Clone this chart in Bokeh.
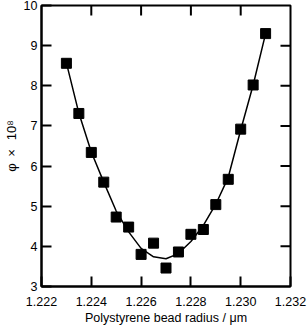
import math
from bokeh.plotting import figure
from bokeh.models import Range1d, FixedTicker, PrintfTickFormatter, ColumnDataSource
from bokeh.embed import file_html
from bokeh.resources import INLINE

# measured points
radius = [1.2230, 1.2235, 1.2240, 1.2245, 1.2250, 1.2255, 1.2260, 1.2265, 1.2270,
          1.2275, 1.2280, 1.2285, 1.2290, 1.2295, 1.2300, 1.2305, 1.2310]
phi = [8.56, 7.31, 6.34, 5.60, 4.73, 4.48, 3.80, 4.08, 3.46,
       3.86, 4.30, 4.42, 5.04, 5.67, 6.92, 8.02, 9.30]

# fitted curve
fit_radius = [1.2230, 1.2235, 1.2240, 1.2245, 1.2250, 1.2255, 1.2260, 1.2265, 1.2270,
              1.2275, 1.2280, 1.2285, 1.2290, 1.2295, 1.2300, 1.2305, 1.2310]
fit_phi = [8.57, 7.32, 6.35, 5.60, 4.88, 4.36, 3.95, 3.74, 3.69,
           3.82, 4.12, 4.52, 5.05, 5.72, 6.90, 8.02, 9.30]

x_ticks = [1.222, 1.224, 1.226, 1.228, 1.230, 1.232]
y_ticks = [3, 4, 5, 6, 7, 8, 9, 10]

x_title = "Polystyrene bead radius / μm"
y_title = "φ\u2002×\u2002\u200910⁸"

FONT = "Liberation Sans"
FS = "12.5px"

p = figure(width=307, height=327, output_backend="svg", toolbar_location=None,
           x_range=Range1d(x_ticks[0], x_ticks[-1]), y_range=Range1d(y_ticks[0], y_ticks[-1]),
           min_border_left=41, min_border_right=17, min_border_top=5, min_border_bottom=40)
p.outline_line_color = "black"
p.outline_line_width = 2
p.xgrid.visible = False
p.ygrid.visible = False
p.background_fill_color = "white"
p.border_fill_color = "white"


def style(ax, ticks):
    ax.ticker = FixedTicker(ticks=ticks)
    ax.axis_line_color = "black"
    ax.axis_line_width = 2
    ax.major_tick_line_color = "black"
    ax.major_tick_line_width = 2
    ax.major_tick_in = 10
    ax.major_tick_out = 0
    ax.minor_tick_line_color = None
    ax.major_label_text_font = FONT
    ax.major_label_text_font_size = FS
    ax.major_label_text_color = "black"
    ax.axis_label_text_font = FONT
    ax.axis_label_text_font_size = FS
    ax.axis_label_text_font_style = "normal"
    ax.axis_label_text_color = "black"


style(p.xaxis[0], x_ticks)
style(p.yaxis[0], y_ticks)
p.xaxis[0].formatter = PrintfTickFormatter(format="%.3f")
p.yaxis[0].formatter = PrintfTickFormatter(format="%d")
p.xaxis[0].major_label_standoff = 10
p.yaxis[0].major_label_standoff = 4
p.xaxis[0].axis_label = x_title
p.xaxis[0].axis_label_standoff = 2
p.yaxis[0].axis_label = y_title
p.yaxis[0].axis_label_text_font_size = "13px"
p.yaxis[0].axis_label_standoff = 2

# mirrored inward ticks on top and right (half of each dash is clipped by the frame)
top_src = ColumnDataSource(dict(x=x_ticks[1:-1], y=[y_ticks[-1]] * (len(x_ticks) - 2)))
right_src = ColumnDataSource(dict(x=[x_ticks[-1]] * (len(y_ticks) - 2), y=y_ticks[1:-1]))
p.scatter("x", "y", source=top_src, marker="dash", size=20, angle=math.pi / 2,
          line_color="black", line_width=2)
p.scatter("x", "y", source=right_src, marker="dash", size=20, angle=0,
          line_color="black", line_width=2)

curve = ColumnDataSource(dict(x=fit_radius, y=fit_phi))
pts = ColumnDataSource(dict(x=radius, y=phi))
p.line("x", "y", source=curve, line_color="black", line_width=1.5)
p.scatter("x", "y", source=pts, marker="square", size=10,
          fill_color="black", line_color="black")

open("out.html", "w").write(file_html(p, INLINE))
